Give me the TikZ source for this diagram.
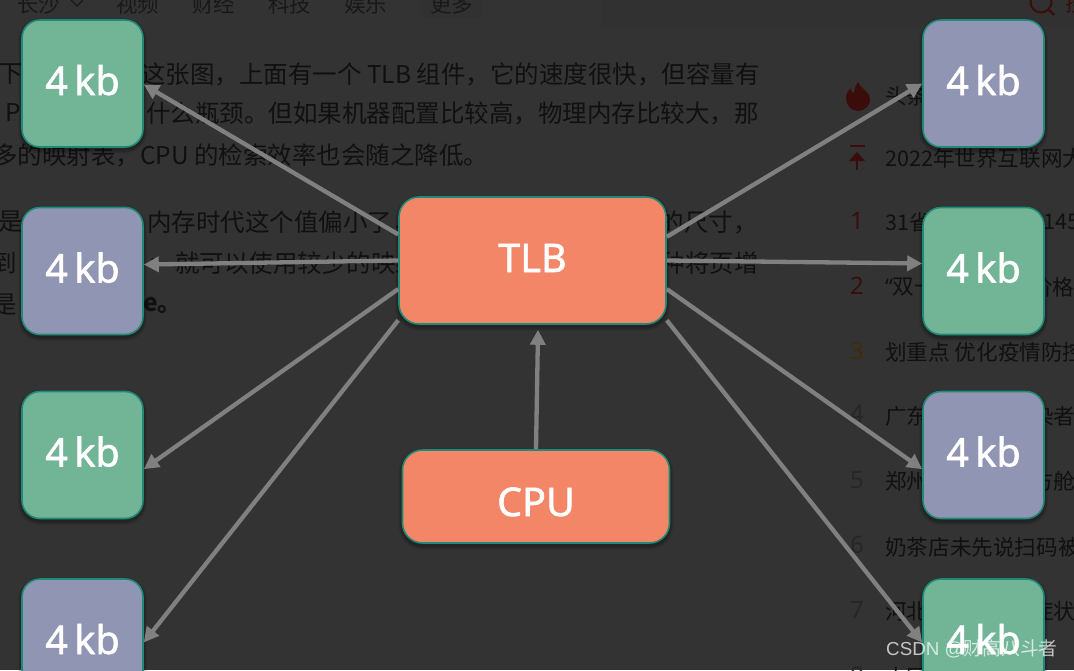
\documentclass[tikz,border=0pt]{standalone}
\usepackage{fontspec}
\setmainfont{Noto Sans CJK SC}
\newfontfamily\labelfont[FakeBold=1.4]{Noto Sans}
\newfontfamily\numfont{Noto Sans}
\newfontfamily\markfont{Liberation Sans}
\newfontfamily\cjkmark{Noto Sans CJK SC}
\usetikzlibrary{arrows.meta}
\definecolor{pagebg}{HTML}{333333}
\definecolor{navbg}{HTML}{313131}
\definecolor{inktext}{HTML}{101010}
\definecolor{navtext}{HTML}{181818}
\definecolor{fadenum}{HTML}{262626}
\definecolor{hotred}{HTML}{3A0D0A}
\definecolor{hotbrown}{HTML}{432A08}
\definecolor{teal}{HTML}{1F8A78}
\definecolor{greenbox}{HTML}{71B596}
\definecolor{purplebox}{HTML}{9195B4}
\definecolor{orangebox}{HTML}{F28667}
\definecolor{linkgrey}{HTML}{808080}
\newcommand{\boxtext}[2]{\raisebox{#1}[0pt][0pt]{#2}}
\newcommand{\kb}{\boxtext{-11.5pt}{4\hspace{6.5pt}kb}}
\tikzset{
  x=1pt,y=-1pt,
  para/.style={anchor=west,inner sep=0,text=inktext,font=\fontsize{24.5}{26}\selectfont},
  side/.style={anchor=west,inner sep=0,text=inktext,font=\fontsize{21.6}{23}\selectfont},
  nav/.style={anchor=west,inner sep=0,text=navtext,font=\fontsize{21.5}{23}\selectfont},
  rank/.style={anchor=center,inner sep=0,font=\numfont\fontsize{24}{26}\selectfont},
  softshade/.style={preaction={draw=black,draw opacity=.08,line width=#1,transform canvas={yshift=-2.5pt}}},
  boxbase/.style={draw=teal,line width=1.6pt,text=white,inner sep=0,
    font=\labelfont\fontsize{39.5}{42}\selectfont,
    softshade=8pt,softshade=6pt,softshade=4pt,softshade=2pt},
  small/.style={boxbase,rounded corners=18pt,minimum width=121pt,minimum height=127pt},
  green/.style={small,fill=greenbox},
  purple/.style={small,fill=purplebox},
  wide/.style={boxbase,rounded corners=20pt,fill=orangebox,minimum width=267pt},
  link/.style={draw=linkgrey,line width=4.3pt,-{Triangle[length=15pt,width=15pt]}},
}
\begin{document}
\begin{tikzpicture}
\clip (0,0) rectangle (1074,670);
\fill[pagebg] (0,0) rectangle (1074,670);
\fill[navbg] (420,0) rectangle (483,18);
\fill[navbg] (602,0) rectangle (1074,27);
% page behind the figure
\node[nav] (n1) at (17,4) {长沙};
\draw[navtext,line width=1.3pt] (71,0) -- (77,6) -- (83,0);
\node[nav] (n2) at (116,4) {视频};
\node[nav] (n3) at (192,4) {财经};
\node[nav] (n4) at (268,4) {科技};
\node[nav] (n5) at (344,4) {娱乐};
\node[nav] (n6) at (430,4) {更多};
\draw[hotred,line width=2pt] (1041,2) circle (10.5);
\draw[hotred,line width=2.4pt] (1049,10) -- (1054,15);
\node[side,text=hotred] (srch) at (1065,3) {搜};

\node[para] (p1a) at (-2,74) {下};
\node[para,anchor=east] (p1b) at (760,74) {这张图，上面有一个 TLB 组件，它的速度很快，但容量有};
\node[para] (p2a) at (5,113) {P};
\node[para,anchor=east] (p2b) at (759,113) {什么瓶颈。但如果机器配置比较高，物理内存比较大，那};
\node[para] (p3) at (-7,155) {多的映射表，CPU 的检索效率也会随之降低。};
\node[para] (p4a) at (-2,222) {是};
\node[para] (p4b) at (147,222) {内存时代这个值偏小了，};
\node[para,anchor=east] (p4c) at (758,222) {的尺寸，};
\node[para] (p5a) at (-8,263) {到};
\node[para] (p5b) at (147,263) {，};
\node[para] (p5c) at (175,263) {就可以使用较少的映射};
\node[para,anchor=east] (p5d) at (759,263) {种将页增};
\node[para] (p6a) at (-8,305) {是};
\node[para,font=\fontsize{24.5}{26}\selectfont\bfseries] (p6b) at (143,305) {e。};

\fill[hotred] (858,82) .. controls (860,88) and (868,90) .. (870,98)
  .. controls (871,105) and (865,111) .. (858,111)
  .. controls (851,111) and (846,105) .. (846,98)
  .. controls (846,93) and (849,90) .. (851,88)
  .. controls (851,91) and (852,93) .. (854,94)
  .. controls (854,90) and (855,86) .. (858,82) -- cycle;
\draw[hotred,line width=2.6pt] (850,146) -- (865,146);
\draw[hotred,line width=2.4pt] (857,170) -- (857,156);
\fill[hotred] (857,152) -- (865,161) -- (849,161) -- cycle;

\node[side] (s0) at (885,96) {头条};
\node[side] (s0b) at (885,158) {2022年世界互联网大};
\node[rank,text=hotred] (r1) at (857,221) {1};
\node[side] (s1) at (885,222) {31省};
\node[side] (s1b) at (1043,222) {145};
\node[rank,text=hotred] (r2) at (857,286) {2};
\node[side] (s2) at (885,287) {{\numfont “}双一};
\node[side] (s2b) at (1031,287) {价格};
\node[rank,text=hotbrown] (r3) at (857,351) {3};
\node[side] (s3) at (885,352) {划重点 优化疫情防控};
\node[rank,text=fadenum] (r4) at (857,414) {4};
\node[side] (s4) at (885,416) {广东};
\node[side] (s4b) at (1032,416) {染者};
\node[rank,text=fadenum] (r5) at (857,480) {5};
\node[side] (s5) at (885,481) {郑州};
\node[side] (s5b) at (1032,481) {方舱};
\node[rank,text=fadenum] (r6) at (857,545) {6};
\node[side] (s6) at (885,547) {奶茶店未先说扫码被};
\node[rank,text=fadenum] (r7) at (857,610) {7};
\node[side] (s7) at (885,611) {河北};
\node[side] (s7b) at (1032,611) {症状};
\node[rank,text=fadenum] (r8) at (857,676) {8};
\node[side] (s8) at (885,677) {大同};

% figure
\node[wide,minimum height=127pt] (tlb) at (532.5,260.5) {\boxtext{-11.5pt}{TLB}};
\node[wide,minimum height=93pt] (cpu) at (536,496.5) {\boxtext{-19.5pt}{CPU}};
\node[green]  (a1) at (82.5,83.5)  {\kb};
\node[purple] (a2) at (82.5,271)   {\kb};
\node[green]  (a3) at (82.5,455)   {\kb};
\node[purple] (a4) at (82.5,642.5) {\kb};
\node[purple] (b1) at (983.5,83.5) {\kb};
\node[green]  (b2) at (983.5,271)  {\kb};
\node[purple] (b3) at (983.5,455)  {\kb};
\node[green]  (b4) at (983.5,642.5){\kb};

\draw[link] (tlb.169.6) -- (a1.-1.4);
\draw[link] (tlb.180.6) -- (a2.6.6);
\draw[link] (tlb.192.9) -- (a3.-13);
\draw[link] (tlb.204) -- (a4.east);
\draw[link] (tlb.10.4) -- (b1.west);
\draw[link] (tlb.-0.6) -- (b2.173.4);
\draw[link] (tlb.-12.9) -- (b3.193);
\draw[link] (tlb.-24) -- (b4.180);
\draw[link,shorten >=5pt] (cpu.north) -- (tlb.-85);

\node[anchor=west,inner sep=0,text=white,opacity=.72,font=\markfont\fontsize{18.8}{20}\selectfont] (wm) at (886,649) {CSDN @{\cjkmark 财高八斗者}};
\end{tikzpicture}
\end{document}
